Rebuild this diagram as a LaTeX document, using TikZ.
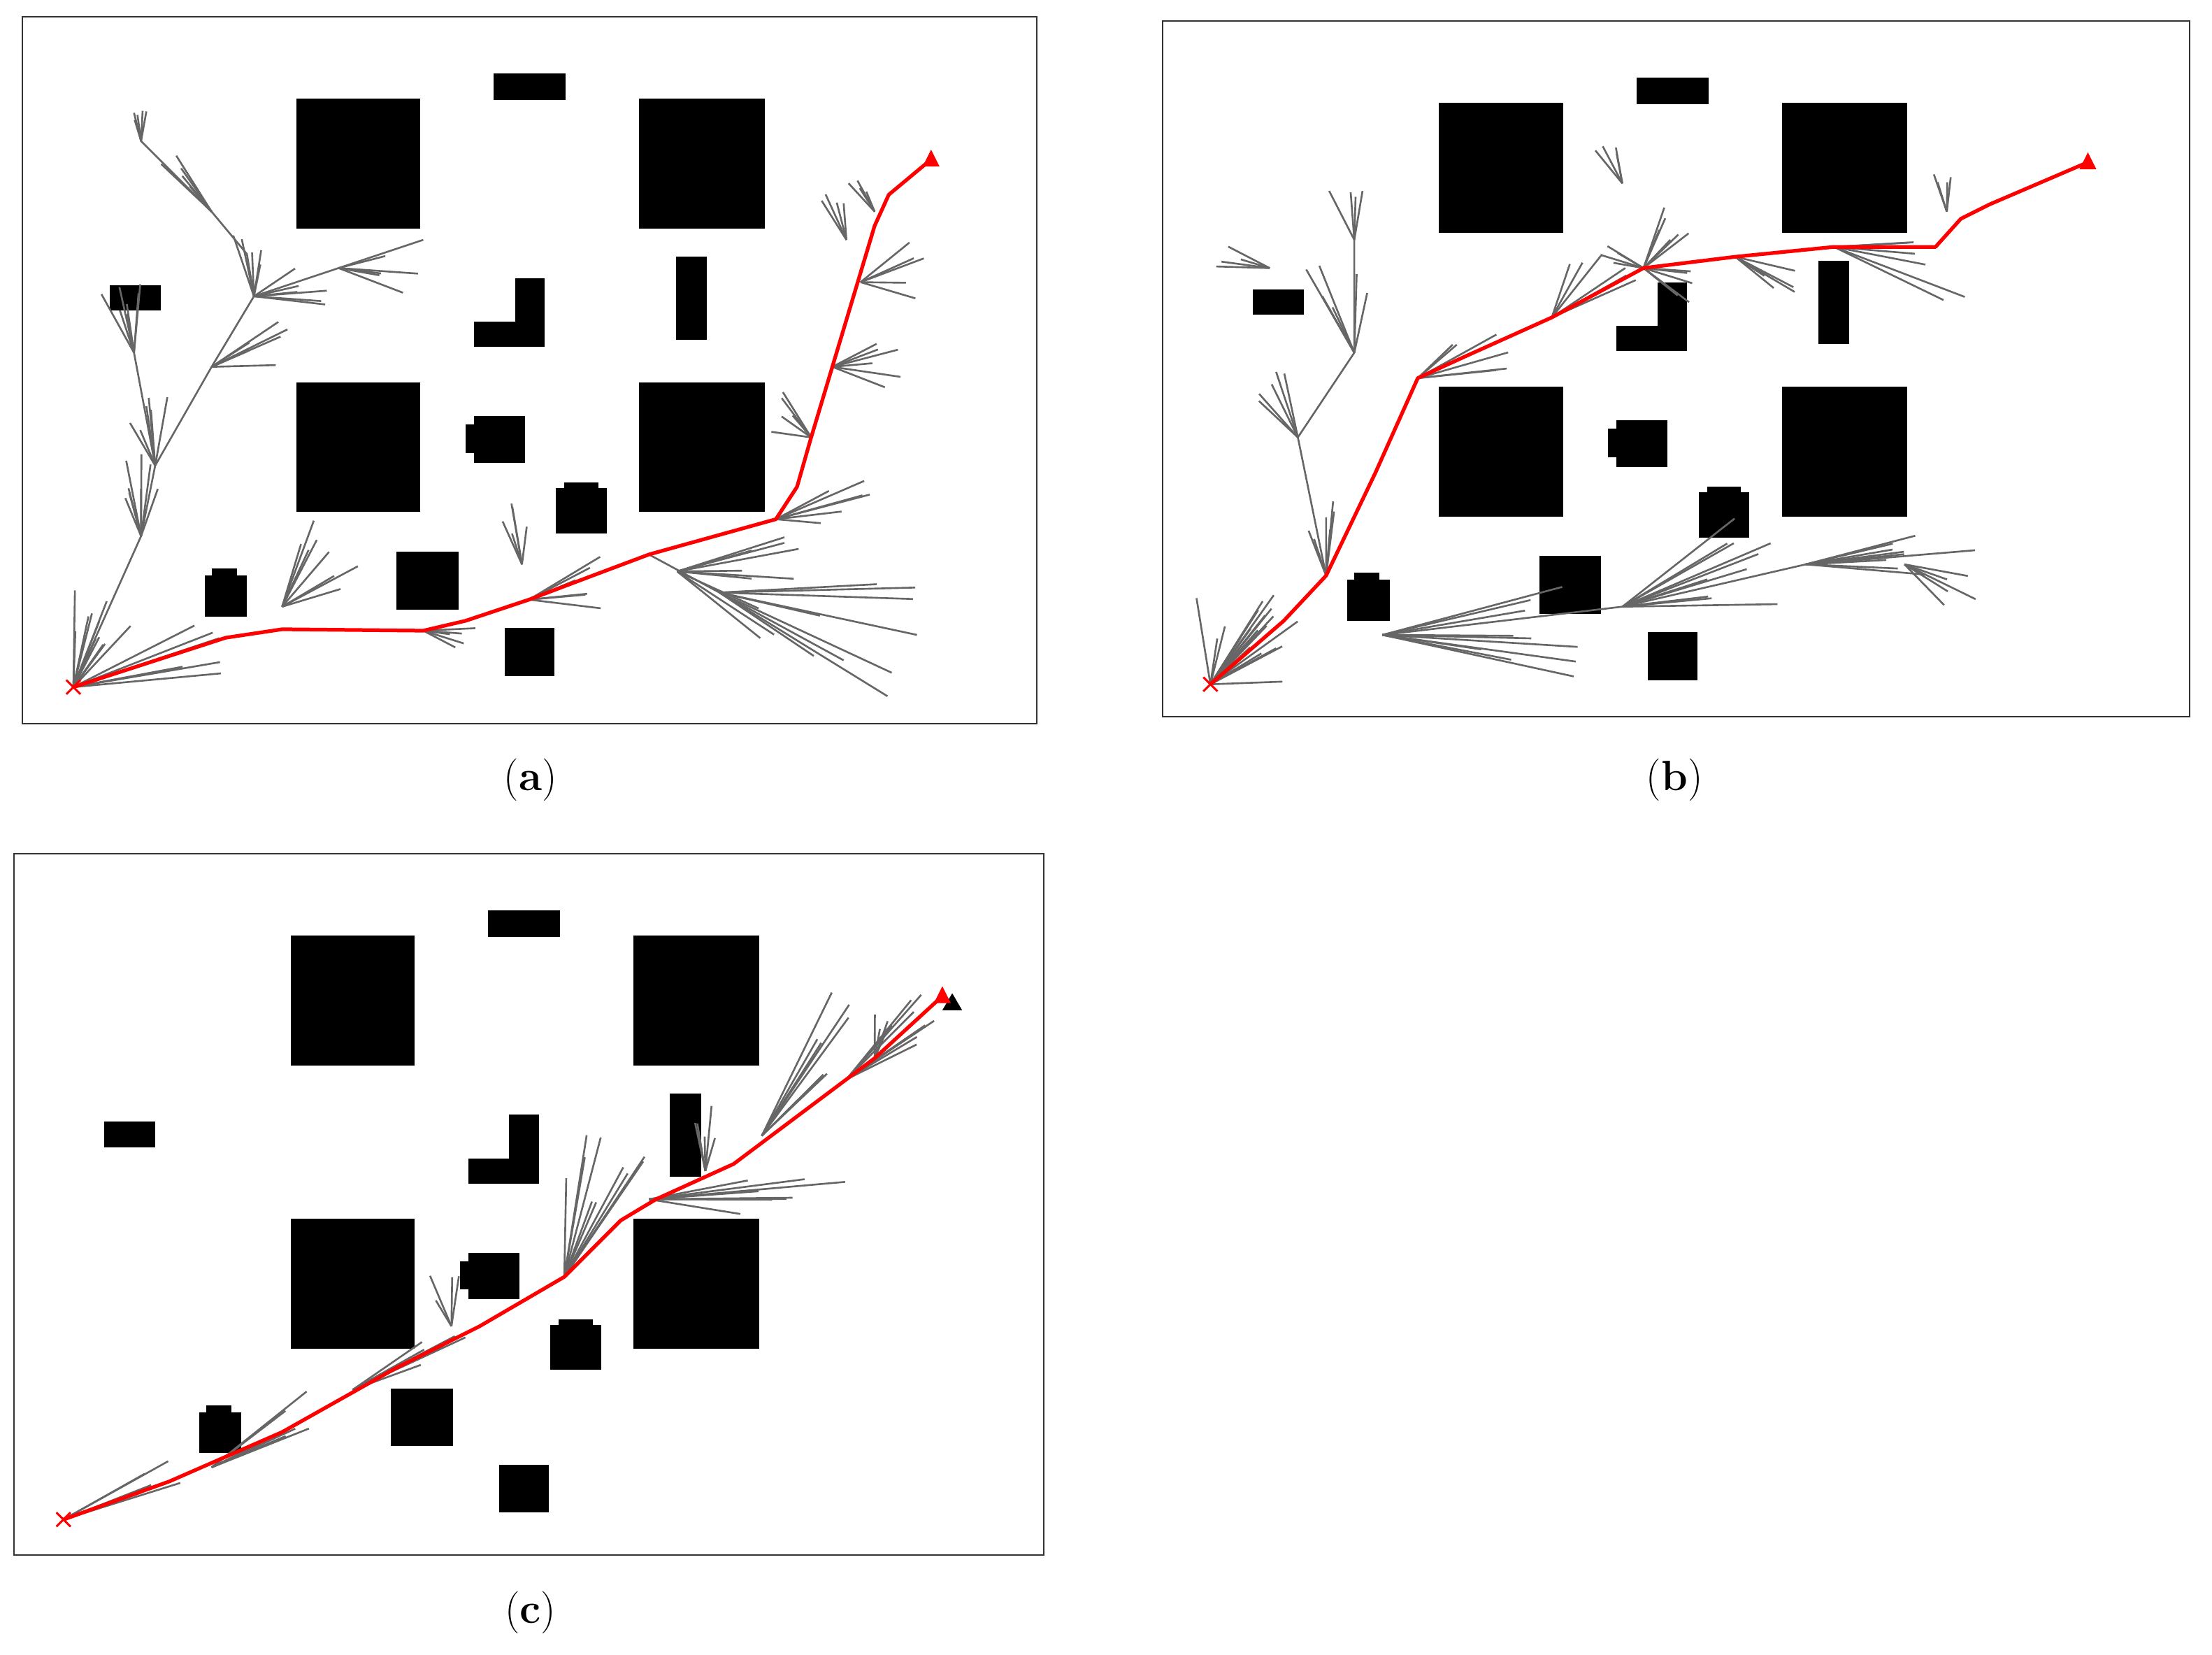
\documentclass[tikz,border=0pt]{standalone}
\begin{document}
\begin{tikzpicture}[x=1pt,y=-1pt,
  frame/.style={draw=black!80,line width=1.2pt},
  obs/.style={fill=black,draw=none},
  br/.style={draw=black!60,line width=1.3pt},
  path/.style={draw=red,line width=2.6pt,line join=round},
  captxt/.style={font=\fontsize{30}{36}\selectfont}]
\useasboundingbox (0,0) rectangle (1568,1173);
\newcommand{\obstacles}{%
  \fill[obs] (210,70) rectangle (298,162);
  \fill[obs] (453,70) rectangle (542,162);
  \fill[obs] (210,271) rectangle (298,363);
  \fill[obs] (453,271) rectangle (542,363);
  \fill[obs] (350,52) rectangle (401,71);
  \fill[obs] (78,202) rectangle (114,220);
  \fill[obs] (365,197) rectangle (386,246);
  \fill[obs] (336,228) rectangle (386,246);
  \fill[obs] (479,182) rectangle (501,241);
  \fill[obs] (336,295) rectangle (372,328);
  \fill[obs] (330,301) rectangle (337,321);
  \fill[obs] (394,346) rectangle (430,378);
  \fill[obs] (400,342) rectangle (424,347);
  \fill[obs] (281,391) rectangle (325,432);
  \fill[obs] (145,408) rectangle (175,437);
  \fill[obs] (150,403) rectangle (168,409);
  \fill[obs] (358,445) rectangle (393,479);}
\newcommand{\fans}[1]{%
  \foreach \x/\y/\a/\s/\n/\l in {#1}{%
    \foreach \i in {1,...,\n}{%
      \pgfmathsetmacro\ang{\a+\s*rand}%
      \pgfmathsetmacro\len{\l*(0.45+0.55*rnd)}%
      \draw[br] (\x,\y) -- ++({\len*cos(\ang)},{-\len*sin(\ang)});
    }}}
\pgfmathsetseed{7}
% ---------- (a)
\draw[frame] (16,12) rectangle (735,513);
\obstacles
\begin{scope}
\clip (17,13) rectangle (734,512);
\draw[br] (52,487)--(100,380)--(110,330)--(95,250)--(85,220);
\draw[br] (110,330)--(150,260)--(180,210)--(175,180)--(150,150)--(100,100)--(95,80);
\draw[br] (180,210)--(240,190)--(300,170);
\draw[br] (460,393)--(510,420)--(650,450);
\fans{52/487/60/40/12/70, 52/487/20/20/6/120, 100/380/90/30/8/60, 110/330/100/25/6/50,
 95/250/100/25/6/50, 150/260/30/30/6/60, 180/210/20/30/6/60, 180/210/100/25/5/50,
 150/150/120/30/5/50, 100/100/100/30/4/30, 240/190/0/25/5/60, 200/430/45/30/8/70,
 300/447/-10/30/5/40, 370/400/90/25/5/50, 375/425/20/30/6/60, 480/405/-10/30/10/90,
 510/420/-15/20/8/140, 550/368/10/20/6/70, 590/260/0/30/6/60, 575/310/150/30/5/40,
 610/200/10/30/5/50, 600/170/110/25/4/40, 620/150/110/25/4/30}
\end{scope}
\draw[path] (52,487)--(160,452)--(200,446)--(300,447)--(330,440)--(375,425)--(420,408)--(460,393)--(550,368)--(565,345)--(575,310)--(590,260)--(605,210)--(620,160)--(630,138)--(660,113);
\draw[red,line width=1.5pt] (47,482)--(57,492) (47,492)--(57,482);
\fill[red] (654,118)--(666,118)--(660,106)--cycle;
\node[captxt] (ca) at (376,553) {(\textbf{a})};
% ---------- (b)
\draw[frame] (824,15) rectangle (1552,508);
\begin{scope}[shift={(810,3)}]\obstacles\end{scope}
\begin{scope}
\clip (825,16) rectangle (1551,507);
\draw[br] (940,408)--(920,310)--(960,250)--(960,170);
\draw[br] (980,450)--(1150,430)--(1280,400)--(1400,390);
\fans{858/485/30/30/12/80, 858/485/70/30/8/70, 940/408/90/30/6/60, 920/310/120/25/5/50,
 960/250/100/25/6/70, 960/170/100/25/4/40, 900/190/170/20/4/40, 1005/268/30/30/6/70,
 1100/225/50/30/6/70, 1165/190/60/30/6/60, 1165/190/160/20/4/40, 1165/190/-20/25/5/60,
 1150/130/110/25/4/40, 1230/182/-30/25/5/50, 1300/175/-10/20/6/100, 1380/150/100/20/4/30,
 980/450/0/15/10/150, 1150/430/20/20/10/130, 1280/400/0/15/8/120, 1350/400/-30/25/5/60}
\end{scope}
\draw[path] (858,485)--(910,440)--(940,408)--(975,335)--(1005,268)--(1040,252)--(1100,225)--(1165,190)--(1230,182)--(1300,175)--(1372,175)--(1390,155)--(1410,145)--(1480,115);
\draw[red,line width=1.5pt] (853,480)--(863,490) (853,490)--(863,480);
\fill[red] (1474,120)--(1486,120)--(1480,108)--cycle;
\node[captxt] (cb) at (1187,553) {(\textbf{b})};
% ---------- (c)
\draw[frame] (10,605) rectangle (740,1102);
\begin{scope}[shift={(-4,593)}]\obstacles\end{scope}
\begin{scope}
\clip (11,606) rectangle (739,1101);
\fans{45/1077/25/8/6/120, 150/1040/30/10/6/100, 250/985/25/10/6/110, 320/940/100/25/4/40,
 400/905/75/20/10/110, 460/850/0/12/8/140, 500/830/90/20/5/50, 540/805/50/15/8/120,
 600/765/40/15/8/80, 620/750/80/20/4/40}
\end{scope}
\fill[black] (668,716)--(682,716)--(675,704)--cycle;
\draw[path] (45,1077)--(120,1050)--(200,1015)--(280,970)--(340,940)--(400,905)--(440,865)--(465,850)--(520,825)--(560,795)--(620,750)--(668,706);
\draw[red,line width=1.5pt] (40,1072)--(50,1082) (40,1082)--(50,1072);
\fill[red] (662,711)--(674,711)--(668,699)--cycle;
\node[captxt] (cc) at (376,1143) {(\textbf{c})};
\end{tikzpicture}
\end{document}
